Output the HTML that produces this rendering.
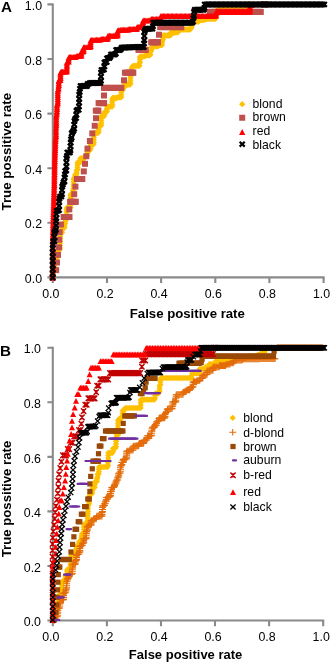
<!DOCTYPE html>
<html><head><meta charset="utf-8"><title>ROC curves</title>
<style>
html,body{margin:0;padding:0;background:#fff;}
svg{display:block;}
text{font-family:"Liberation Sans",sans-serif;fill:#000;}
.tk{font-size:12.4px;}
.lg{font-size:12.2px;}
.ax{font-size:13px;font-weight:bold;}
.pl{font-size:15.2px;font-weight:bold;}
polyline{fill:none;stroke:none;}
.mA0{marker-start:url(#dA);marker-mid:url(#dA);marker-end:url(#dA);}
.mA1{marker-start:url(#sA);marker-mid:url(#sA);marker-end:url(#sA);}
.mA2{marker-start:url(#tA);marker-mid:url(#tA);marker-end:url(#tA);}
.mA3{marker-start:url(#xA);marker-mid:url(#xA);marker-end:url(#xA);}
.mB0{marker-start:url(#dB);marker-mid:url(#dB);marker-end:url(#dB);}
.mB1{marker-start:url(#pB);marker-mid:url(#pB);marker-end:url(#pB);}
.mB2{marker-start:url(#sB);marker-mid:url(#sB);marker-end:url(#sB);}
.mB3{marker-start:url(#hB);marker-mid:url(#hB);marker-end:url(#hB);}
.mB4{marker-start:url(#rB);marker-mid:url(#rB);marker-end:url(#rB);}
.mB5{marker-start:url(#tB);marker-mid:url(#tB);marker-end:url(#tB);}
.mB6{marker-start:url(#xB);marker-mid:url(#xB);marker-end:url(#xB);}
</style></head><body>
<svg width="331" height="664" viewBox="0 0 331 664">
<defs>
<marker id="dA" markerUnits="userSpaceOnUse" markerWidth="8" markerHeight="8" refX="4" refY="4"><path d="M4 0.85L7.15 4L4 7.15L0.85 4Z" fill="#FFC000"/></marker>
<marker id="sA" markerUnits="userSpaceOnUse" markerWidth="8" markerHeight="8" refX="4" refY="4"><rect x="1" y="1" width="6" height="6" fill="#C0504D"/></marker>
<marker id="tA" markerUnits="userSpaceOnUse" markerWidth="8" markerHeight="8" refX="4" refY="4"><path d="M4 1.1L7.15 6.9H0.85Z" fill="#FF0000"/></marker>
<marker id="xA" markerUnits="userSpaceOnUse" markerWidth="8" markerHeight="8" refX="4" refY="4"><path d="M1.45 1.55L6.55 6.45M6.55 1.55L1.45 6.45" stroke="#000" stroke-width="2.2" fill="none"/></marker>
<marker id="dB" markerUnits="userSpaceOnUse" markerWidth="8" markerHeight="8" refX="4" refY="4"><path d="M4 0.9L7.1 4L4 7.1L0.9 4Z" fill="#FFC000"/></marker>
<marker id="pB" markerUnits="userSpaceOnUse" markerWidth="8" markerHeight="8" refX="4" refY="4"><path d="M0.5 4H7.5M4 0.7V7.3" stroke="#E46C0A" stroke-width="1.1" fill="none"/></marker>
<marker id="sB" markerUnits="userSpaceOnUse" markerWidth="8" markerHeight="8" refX="4" refY="4"><rect x="1.4" y="1.4" width="5.2" height="5.2" fill="#984807"/></marker>
<marker id="hB" markerUnits="userSpaceOnUse" markerWidth="8" markerHeight="8" refX="4" refY="4"><rect x="1.5" y="2.9" width="5" height="2.2" rx="0.8" fill="#7030A0"/></marker>
<marker id="rB" markerUnits="userSpaceOnUse" markerWidth="8" markerHeight="8" refX="4" refY="4"><path d="M1.4 1.2L6.6 6.8M6.6 1.2L1.4 6.8M4 1.9V6.1" stroke="#C00000" stroke-width="1.4" fill="none"/></marker>
<marker id="tB" markerUnits="userSpaceOnUse" markerWidth="8" markerHeight="8" refX="4" refY="4"><path d="M4 1.1L7 6.9H1Z" fill="#FF0000"/></marker>
<marker id="xB" markerUnits="userSpaceOnUse" markerWidth="8" markerHeight="8" refX="4" refY="4"><path d="M1.4 1.45L6.6 6.55M6.6 1.45L1.4 6.55" stroke="#000" stroke-width="1.3" fill="none"/></marker>
</defs>
<rect width="331" height="664" fill="#fff"/>
<path d="M52.8 3.4V283.1 M47.4 277.4H324.7" stroke="#8a8a8a" stroke-width="2.1" fill="none"/>
<path d="M47.4 222.8H52.8M107.0 277.4V283.1M47.4 168.2H52.8M161.1 277.4V283.1M47.4 113.6H52.8M215.3 277.4V283.1M47.4 59.0H52.8M269.4 277.4V283.1M47.4 4.4H52.8M323.6 277.4V283.1" stroke="#8a8a8a" stroke-width="2.1" fill="none"/>
<text class="tk" text-anchor="end" x="42.1" y="283.0">0.0</text>
<text class="tk" text-anchor="middle" x="50.8" y="297.6">0.0</text>
<text class="tk" text-anchor="end" x="42.1" y="228.4">0.2</text>
<text class="tk" text-anchor="middle" x="105.0" y="297.6">0.2</text>
<text class="tk" text-anchor="end" x="42.1" y="173.8">0.4</text>
<text class="tk" text-anchor="middle" x="159.1" y="297.6">0.4</text>
<text class="tk" text-anchor="end" x="42.1" y="119.2">0.6</text>
<text class="tk" text-anchor="middle" x="213.3" y="297.6">0.6</text>
<text class="tk" text-anchor="end" x="42.1" y="64.6">0.8</text>
<text class="tk" text-anchor="middle" x="267.4" y="297.6">0.8</text>
<text class="tk" text-anchor="end" x="42.1" y="10.0">1.0</text>
<text class="tk" text-anchor="middle" x="321.6" y="297.6">1.0</text>
<path d="M52.8 346.8V626.2 M47.4 620.5H324.2" stroke="#8a8a8a" stroke-width="2.1" fill="none"/>
<path d="M47.4 566.0H52.8M106.9 620.5V626.2M47.4 511.4H52.8M161.0 620.5V626.2M47.4 456.9H52.8M215.0 620.5V626.2M47.4 402.3H52.8M269.1 620.5V626.2M47.4 347.8H52.8M323.2 620.5V626.2" stroke="#8a8a8a" stroke-width="2.1" fill="none"/>
<text class="tk" text-anchor="end" x="41.0" y="626.1">0.0</text>
<text class="tk" text-anchor="middle" x="50.8" y="640.7">0.0</text>
<text class="tk" text-anchor="end" x="41.0" y="571.6">0.2</text>
<text class="tk" text-anchor="middle" x="104.9" y="640.7">0.2</text>
<text class="tk" text-anchor="end" x="41.0" y="517.0">0.4</text>
<text class="tk" text-anchor="middle" x="159.0" y="640.7">0.4</text>
<text class="tk" text-anchor="end" x="41.0" y="462.5">0.6</text>
<text class="tk" text-anchor="middle" x="213.0" y="640.7">0.6</text>
<text class="tk" text-anchor="end" x="41.0" y="407.9">0.8</text>
<text class="tk" text-anchor="middle" x="267.1" y="640.7">0.8</text>
<text class="tk" text-anchor="end" x="41.0" y="353.4">1.0</text>
<text class="tk" text-anchor="middle" x="321.2" y="640.7">1.0</text>
<polyline class="mA0" points="52.7,277.7 52.7,275.3 52.7,272.9 53.5,272.0 54.5,271.5 54.5,269.1 54.5,266.7 54.5,264.3 54.6,262.0 55.9,262.0 56.5,260.7 56.5,258.3 56.5,255.9 56.5,253.5 57.0,252.0 58.3,252.0 58.5,250.0 59.6,249.7 60.0,248.0 60.0,245.6 60.0,243.2 60.2,241.2 60.2,238.8 60.2,236.4 60.2,234.0 60.7,232.5 62.0,232.5 62.0,230.1 62.0,227.7 63.3,227.7 64.5,227.5 64.5,225.1 65.0,223.5 65.1,221.5 65.4,219.5 66.6,219.3 66.6,216.9 66.6,214.5 66.6,212.1 66.6,209.7 66.9,208.0 67.9,207.4 69.2,207.4 70.5,207.4 70.5,205.0 70.5,202.6 70.5,200.2 70.5,197.8 70.5,195.4 71.1,194.0 72.4,194.0 73.1,192.9 73.1,190.5 73.4,188.7 73.6,186.6 73.7,184.4 73.7,182.0 73.7,179.6 74.1,178.0 75.1,177.4 75.1,175.0 76.3,174.9 76.6,173.0 76.6,170.6 77.4,169.7 77.5,167.5 77.5,165.1 77.5,162.7 78.6,162.4 79.9,162.4 80.2,160.5 80.4,158.5 81.7,158.5 83.0,158.5 84.3,158.5 84.7,156.8 85.6,156.1 86.9,156.1 87.2,154.1 87.2,151.7 87.5,150.0 88.8,150.0 90.1,150.0 90.5,148.4 90.5,146.0 90.9,144.3 92.2,144.3 93.5,144.3 93.8,142.5 93.8,140.1 93.8,137.7 93.8,135.3 93.9,133.0 95.2,133.0 96.5,133.0 97.8,133.0 98.6,132.0 98.6,129.6 98.6,127.2 99.2,126.0 100.5,126.0 101.3,125.1 101.3,122.7 101.3,120.3 101.3,117.9 101.6,116.0 102.9,116.0 104.2,116.0 104.4,113.9 104.7,112.1 106.0,112.1 106.9,111.4 106.9,109.0 106.9,106.6 108.2,106.6 109.5,106.6 110.8,106.6 112.1,106.6 112.3,104.5 112.3,102.1 112.3,99.7 112.7,98.0 114.0,98.0 115.3,98.0 116.6,98.0 117.6,97.4 118.9,97.4 120.2,97.4 121.3,97.1 121.3,94.7 121.3,92.3 121.4,90.1 122.7,90.1 123.2,88.6 123.2,86.2 124.0,85.3 125.3,85.3 126.6,85.3 127.4,84.5 128.7,84.5 130.0,84.5 130.4,82.7 130.4,80.3 130.4,78.0 130.6,76.0 130.6,73.6 131.3,72.3 131.7,70.8 131.7,68.4 132.3,67.0 133.0,65.9 134.3,65.9 135.6,65.9 136.9,65.9 138.2,65.9 139.4,65.8 139.4,63.4 139.9,61.9 139.9,59.5 139.9,57.1 140.8,56.3 142.1,56.3 143.4,56.3 144.7,56.3 145.5,55.4 146.8,55.4 148.1,55.4 149.4,55.4 150.3,54.7 150.3,52.3 150.8,50.9 151.6,49.9 151.6,47.5 152.3,46.3 153.6,46.3 154.9,46.3 156.2,46.3 157.5,46.3 158.5,45.9 159.4,45.1 160.7,45.1 162.0,45.1 162.0,42.7 162.3,40.8 162.8,39.4 162.8,37.0 163.3,35.5 164.6,35.5 165.9,35.5 167.2,35.5 168.5,35.5 169.8,35.5 170.8,35.0 170.8,32.6 172.1,32.5 173.4,32.5 174.7,32.5 176.0,32.5 177.0,32.0 178.3,32.0 178.4,29.7 179.6,29.5 180.9,29.5 182.2,29.5 183.5,29.5 184.8,29.5 186.1,29.5 187.4,29.5 188.7,29.5 190.0,29.5 190.8,28.7 191.3,27.2 191.8,25.7 191.8,23.3 192.2,21.7 193.5,21.7 194.8,21.7 196.1,21.7 197.4,21.7 198.6,21.5 199.1,20.0 200.4,20.0 201.7,20.0 203.0,20.0 204.1,19.6 205.4,19.6 206.3,18.8 207.6,18.8 208.9,18.8 210.2,18.8 211.5,18.8 212.8,18.8 214.1,18.8 215.4,18.8 216.0,17.6 216.0,15.2 217.1,14.8 217.1,12.4 217.1,10.0 218.4,10.0 219.7,10.0 221.0,10.0 222.3,10.0 223.6,10.0 224.9,10.0 226.2,10.0 227.5,10.0 228.8,10.0 230.1,10.0 231.4,10.0 232.7,10.0 234.0,10.0 235.3,10.0 236.6,10.0 237.9,10.0 239.2,10.0 240.5,10.0 241.8,10.0 243.1,10.0 244.4,10.0 245.7,10.0 247.0,10.0 247.0,7.6 247.0,5.2 247.9,4.4 249.2,4.4"/>
<polyline class="mA1" points="52.7,277.7 56.2,270.1 57.0,262.5 58.0,254.9 59.0,247.3 59.2,239.7 59.7,232.1 60.9,224.5 63.6,217.0 65.2,217.0 66.8,217.0 68.4,217.0 69.5,217.0 69.3,209.4 70.1,201.8 71.7,201.8 73.3,201.8 74.9,201.8 75.8,201.8 74.2,194.2 75.4,186.6 76.9,179.0 78.5,179.0 80.1,179.0 81.7,179.0 82.3,179.0 83.8,171.4 85.0,163.8 86.3,156.2 87.5,148.6 89.9,141.0 92.3,133.4 94.7,125.8 96.0,118.2 95.8,110.7 97.4,110.7 98.4,110.7 98.6,103.1 100.2,103.1 101.8,103.1 103.4,103.1 104.1,103.1 104.0,95.5 104.0,87.9 105.6,87.9 107.2,87.9 108.8,87.9 110.4,87.9 112.0,87.9 113.6,87.9 115.2,87.9 116.8,87.9 118.4,87.9 120.0,87.9 121.3,87.9 124.0,80.3 124.9,72.7 126.5,72.7 128.1,72.7 129.7,72.7 131.3,72.7 132.9,72.7 133.3,72.7 138.5,49.9 140.1,49.9 141.7,49.9 143.3,49.9 144.9,49.9 145.8,49.9 151.2,42.3 152.8,42.3 154.4,42.3 156.0,42.3 157.6,42.3 157.9,42.3 159.0,34.7 160.2,27.1 161.8,27.1 163.4,27.1 165.0,27.1 166.6,27.1 168.2,27.1 169.8,27.1 171.4,27.1 173.0,27.1 174.6,27.1 176.2,27.1 177.8,27.1 179.4,27.1 181.0,27.1 181.3,27.1 210.0,11.9 211.6,11.9 213.2,11.9 214.8,11.9 216.4,11.9 218.0,11.9 219.6,11.9 221.2,11.9 222.8,11.9 224.4,11.9 226.0,11.9 227.6,11.9 229.2,11.9 230.8,11.9 232.4,11.9 234.0,11.9 235.6,11.9 237.2,11.9 238.8,11.9 240.4,11.9 242.0,11.9 243.6,11.9 245.2,11.9 246.8,11.9 248.4,11.9 250.0,11.9 251.6,11.9 253.2,11.9 254.8,11.9 256.4,11.9 258.0,11.9 259.6,11.9 260.8,11.9 263.0,4.4 264.6,4.4 266.0,4.4"/>
<polyline class="mA2" points="52.7,277.7 52.7,275.8 52.7,273.9 52.7,272.0 52.7,270.1 52.7,268.3 52.8,266.4 52.8,264.5 52.8,262.6 52.8,260.7 52.8,258.8 52.8,256.9 52.8,255.0 52.8,253.2 52.8,251.3 52.8,249.4 52.8,247.5 52.8,245.6 52.9,243.7 52.9,241.8 52.9,239.9 52.9,238.1 52.9,236.2 52.9,234.3 52.9,232.4 53.0,230.6 53.0,228.7 53.1,226.9 53.1,225.1 53.2,223.3 53.2,221.5 53.3,219.6 53.3,217.8 53.4,216.0 53.4,214.2 53.5,212.3 53.5,210.5 53.6,208.7 53.6,206.9 53.7,205.1 53.8,203.2 53.8,201.4 53.9,199.6 53.9,197.8 54.0,196.0 54.1,194.2 54.1,192.4 54.2,190.6 54.2,188.8 54.3,186.9 54.4,185.1 54.4,183.3 54.4,181.4 54.5,179.6 54.5,177.7 54.5,175.9 54.6,174.0 54.6,172.2 54.6,170.3 54.7,168.5 54.7,166.6 54.7,164.8 54.8,162.9 54.8,161.0 54.8,159.2 54.9,157.4 55.0,155.6 55.0,153.8 55.1,152.0 55.2,150.2 55.2,148.4 55.3,146.6 55.4,144.8 55.4,143.0 55.5,141.2 55.6,139.4 55.7,137.6 56.0,136.2 56.0,134.3 56.0,132.4 56.0,130.5 56.0,128.6 56.1,126.8 56.2,125.1 56.3,123.3 56.3,121.5 56.3,119.6 56.3,117.7 56.3,115.8 56.6,114.4 56.8,112.7 56.9,111.0 57.0,109.2 57.0,107.3 57.0,105.4 57.3,103.9 57.8,102.8 57.8,100.9 57.8,99.0 57.8,97.1 57.8,95.2 57.8,93.3 57.8,91.4 58.0,89.7 58.5,88.6 58.5,86.7 58.8,85.2 58.8,83.3 58.8,81.4 59.1,80.0 60.4,80.0 60.5,78.2 60.5,76.3 60.5,74.4 60.5,72.5 61.3,71.7 62.6,71.7 63.9,71.7 65.2,71.7 66.5,71.7 66.9,70.5 66.9,68.6 66.9,66.7 66.9,64.8 66.9,62.9 67.4,61.7 68.7,61.6 68.7,59.7 68.7,57.8 69.3,56.8 70.6,56.8 71.9,56.8 73.2,56.8 74.5,56.8 75.8,56.8 76.6,56.1 77.7,55.8 79.0,55.8 80.3,55.8 81.4,55.5 81.4,53.6 81.4,51.7 82.6,51.7 83.6,51.2 83.6,49.3 83.6,47.4 84.7,47.1 86.0,47.1 87.3,47.1 88.6,47.1 89.9,47.1 90.6,46.2 90.6,44.3 90.6,42.4 90.6,40.5 91.5,39.9 92.8,39.9 94.1,39.9 95.3,39.8 96.5,39.6 97.8,39.6 99.1,39.6 100.4,39.6 101.1,38.8 102.4,38.8 103.7,38.8 105.0,38.8 106.3,38.8 107.6,38.8 108.0,37.4 108.1,35.7 109.4,35.7 110.7,35.7 112.0,35.7 113.3,35.7 114.6,35.7 115.9,35.7 117.2,35.7 117.7,34.5 117.7,32.6 117.7,30.7 118.6,30.1 119.9,30.1 120.9,29.7 122.2,29.7 123.5,29.7 124.8,29.7 126.1,29.7 127.3,29.6 128.6,29.5 129.5,29.0 130.8,29.0 132.1,29.0 133.4,29.0 134.7,29.0 136.0,29.0 137.0,28.5 137.2,26.9 138.5,26.9 139.8,26.9 141.1,26.9 142.0,26.3 142.0,24.4 142.3,23.0 143.1,22.2 143.2,20.4 144.5,20.4 145.8,20.4 147.1,20.4 148.4,20.4 149.7,20.4 150.8,20.2 151.3,19.0 152.6,19.0 153.9,19.0 155.2,19.0 156.5,19.0 157.8,19.0 159.1,19.0 160.4,19.0 160.6,17.4 160.9,15.9 162.2,15.9 163.5,15.9 164.8,15.9 166.1,15.9 167.4,15.9 168.7,15.9 170.0,15.9 171.3,15.9 172.6,15.9 173.9,15.9 175.2,15.9 176.5,15.9 177.8,15.9 179.1,15.9 180.4,15.9 181.7,15.9 183.0,15.9 184.3,15.9 185.6,15.9 186.9,15.9 188.2,15.9 189.5,15.9 190.8,15.9 192.1,15.9 193.4,15.9 194.7,15.9 196.0,15.9 197.3,15.9 198.6,15.9 199.9,15.9 201.2,15.9 202.5,15.9 203.8,15.9 205.1,15.9 206.4,15.9 207.7,15.9 209.0,15.9 210.3,15.9 211.6,15.9 212.9,15.9 214.2,15.9 215.5,15.9 216.0,14.8 216.0,12.9 216.4,11.5 217.7,11.5 219.0,11.5 220.3,11.5 221.6,11.5 222.9,11.5 224.2,11.5 225.5,11.5 226.8,11.5 228.1,11.5 229.4,11.5 230.7,11.5 232.0,11.5 233.3,11.5 234.6,11.5 235.9,11.5 237.2,11.5 238.5,11.5 239.8,11.5 241.1,11.5 242.4,11.5 243.7,11.5 245.0,11.5 246.3,11.5 247.6,11.5 248.9,11.5 250.0,11.3 250.0,9.4 250.0,7.5 250.0,5.6 250.5,4.4 251.8,4.4 253.1,4.4"/>
<polyline class="mA3" points="52.7,277.7 52.7,273.5 52.7,269.3 52.7,265.1 52.7,260.9 52.7,256.7 52.7,252.5 52.7,248.3 52.9,244.7 53.2,241.5 54.4,241.2 54.4,237.0 54.4,232.8 55.2,231.1 56.0,229.6 56.0,225.4 56.0,221.2 56.4,218.2 56.4,214.0 56.7,210.8 58.0,210.8 59.1,210.0 59.1,205.8 59.1,201.6 59.4,198.7 60.1,196.6 61.4,196.6 62.0,194.3 62.0,190.1 62.2,186.6 62.9,184.6 63.5,182.3 64.5,181.4 64.5,177.2 65.0,174.5 65.1,170.9 66.3,170.4 66.4,166.6 66.4,162.4 66.4,158.2 67.0,155.9 67.3,152.5 68.6,152.5 69.9,152.5 70.5,150.4 70.5,146.2 70.7,142.6 71.0,139.3 71.7,137.5 71.7,133.3 72.6,132.0 73.5,130.7 74.2,128.8 74.2,124.6 74.4,121.0 75.1,118.9 76.1,118.0 76.4,114.9 76.4,110.7 77.4,109.8 78.7,109.8 79.0,106.5 79.1,102.6 79.2,98.8 79.2,94.6 79.7,92.0 80.0,88.7 80.5,86.0 81.8,86.0 83.1,86.0 84.4,86.0 85.7,86.0 87.0,86.0 87.6,83.9 88.9,83.8 89.9,83.0 91.2,83.0 92.5,83.0 93.8,83.0 95.1,83.0 96.4,83.0 97.7,83.0 99.0,83.0 100.3,83.0 101.0,80.9 101.0,76.7 101.0,72.5 101.5,70.0 102.8,70.0 104.0,69.6 104.4,66.6 104.4,62.4 105.5,62.0 106.8,62.0 107.0,58.3 108.2,58.0 109.5,58.0 110.4,56.7 111.0,54.5 112.3,54.5 113.6,54.5 114.9,54.5 115.9,53.5 116.1,50.0 117.4,50.0 118.7,50.0 120.0,50.0 121.0,49.0 121.8,47.5 123.1,47.5 124.4,47.5 125.7,47.4 127.0,47.4 128.3,47.4 129.6,47.3 130.9,47.3 132.2,47.2 133.5,47.2 134.7,47.2 136.0,47.1 137.3,47.1 138.6,47.1 139.9,47.0 141.2,47.0 142.5,47.0 143.8,47.0 144.0,43.5 144.3,40.2 144.3,36.0 144.3,31.8 145.1,30.2 145.9,28.7 147.2,28.7 148.5,28.7 149.8,28.7 151.1,28.7 152.4,28.7 153.0,26.3 153.2,22.7 154.5,22.7 155.8,22.7 157.1,22.7 158.4,22.7 159.7,22.7 161.0,22.7 162.3,22.7 163.6,22.7 164.9,22.7 166.2,22.7 167.5,22.7 168.8,22.7 170.1,22.7 171.4,22.7 172.7,22.7 174.0,22.7 175.3,22.7 176.6,22.7 177.9,22.7 179.2,22.7 180.5,22.7 181.8,22.7 183.1,22.7 184.4,22.7 185.7,22.7 187.0,22.7 188.3,22.7 189.6,22.7 190.9,22.7 192.2,22.7 193.1,21.5 193.4,18.1 194.0,16.0 194.0,11.8 194.7,9.8 196.0,9.8 197.3,9.8 198.6,9.8 199.9,9.8 201.2,9.8 202.5,9.8 203.8,9.8 204.5,7.9 204.7,4.4 206.0,4.4 207.3,4.4 208.6,4.4 209.9,4.4 211.2,4.4 212.5,4.4 213.8,4.4 215.1,4.4 216.4,4.4 217.7,4.4 219.0,4.4 220.3,4.4 221.6,4.4 222.9,4.4 224.2,4.4 225.5,4.4 226.8,4.4 228.1,4.4 229.4,4.4 230.7,4.4 232.0,4.4 233.3,4.4 234.6,4.4 235.9,4.4 237.2,4.4 238.5,4.4 239.8,4.4 241.1,4.4 242.4,4.4 243.7,4.4 245.0,4.4 246.3,4.4 247.6,4.4 248.9,4.4 250.2,4.4 251.5,4.4 252.8,4.4 254.1,4.4 255.4,4.4 256.7,4.4 258.0,4.4 259.3,4.4 260.6,4.4 261.9,4.4 263.2,4.4 264.5,4.4 265.8,4.4 267.1,4.4 268.4,4.4 269.7,4.4 271.0,4.4 272.3,4.4 273.6,4.4 274.9,4.4 276.2,4.4 277.5,4.4 278.8,4.4 280.1,4.4 281.4,4.4 282.7,4.4 284.0,4.4 285.3,4.4 286.6,4.4 287.9,4.4 289.2,4.4 290.5,4.4 291.8,4.4 293.1,4.4 294.4,4.4 295.7,4.4 297.0,4.4 298.3,4.4 299.6,4.4 300.9,4.4 302.2,4.4 303.5,4.4 304.8,4.4 306.1,4.4 307.4,4.4 308.7,4.4 310.0,4.4 311.3,4.4 312.6,4.4 313.9,4.4 315.2,4.4 316.5,4.4 317.8,4.4 319.1,4.4 320.4,4.4 321.7,4.4 323.0,4.4 324.3,4.4"/>
<polyline class="mB0" points="52.7,620.0 53.6,619.1 55.0,619.1 55.0,616.5 55.0,613.9 55.0,611.3 55.6,609.8 55.6,607.2 56.0,605.4 57.4,605.4 58.0,603.8 58.0,601.2 58.8,600.1 58.8,597.5 58.8,594.9 60.0,594.5 61.4,594.5 61.8,592.7 61.8,590.1 61.8,587.5 62.1,585.5 62.1,582.9 62.6,581.2 64.0,581.2 65.4,581.2 65.4,578.6 65.4,576.0 66.3,575.1 67.0,573.8 67.0,571.2 67.4,569.4 68.8,569.2 70.2,569.2 70.5,567.3 70.5,564.7 71.2,563.3 71.2,560.7 71.2,558.1 71.2,555.5 72.5,555.4 73.9,555.4 75.3,555.4 75.7,553.5 76.1,551.6 76.1,549.0 76.1,546.4 77.1,545.8 78.5,545.8 79.0,544.0 79.1,541.7 80.5,541.7 81.4,540.7 81.4,538.1 81.7,536.0 81.9,533.9 83.3,533.8 83.8,532.2 83.8,529.6 83.8,527.0 83.8,524.4 85.0,524.1 86.4,524.1 87.5,523.4 87.5,520.8 87.6,518.3 87.7,516.1 87.9,513.8 88.0,511.4 88.0,508.8 88.0,506.2 88.6,504.7 89.2,503.1 89.2,500.5 89.2,497.9 89.5,496.0 89.9,494.1 91.0,493.5 92.3,493.3 92.3,490.7 92.3,488.1 93.4,487.5 94.7,487.5 94.7,484.9 94.7,482.3 95.7,481.5 97.0,481.3 97.1,478.8 97.5,476.9 97.5,474.3 98.7,474.0 98.9,471.8 98.9,469.2 99.1,467.0 100.5,467.0 101.9,467.0 103.3,467.0 104.7,467.0 106.1,467.0 107.5,467.0 108.0,465.3 108.0,462.7 108.2,460.4 108.3,458.0 108.3,455.4 108.3,452.8 109.7,452.8 111.1,452.8 112.5,452.8 113.0,451.2 113.0,448.6 114.1,448.0 115.5,448.0 116.0,446.4 116.0,443.8 116.0,441.2 116.6,439.6 116.6,437.0 116.7,434.7 118.1,434.7 118.3,432.8 118.2,430.4 118.1,427.9 118.0,425.5 118.0,423.0 118.0,420.4 118.8,419.3 120.2,419.3 120.7,417.7 122.1,417.7 122.6,415.9 122.6,413.3 122.6,410.7 124.0,410.7 124.8,409.5 125.3,408.0 126.7,408.0 128.1,408.0 129.5,408.0 130.9,408.0 132.3,408.0 133.7,408.0 135.1,408.0 136.5,408.0 137.9,408.0 139.3,408.0 140.7,407.9 140.7,405.3 140.7,402.7 140.7,400.1 141.8,399.6 143.2,399.6 144.6,399.6 146.0,399.6 147.4,399.6 148.8,399.6 150.2,399.6 151.6,399.6 153.0,399.6 154.4,399.6 155.0,398.1 155.0,395.5 155.4,393.6 156.8,393.6 158.2,393.6 158.9,392.3 159.6,391.0 159.6,388.4 159.6,385.8 160.4,384.7 160.4,382.1 160.4,379.5 161.0,378.0 162.4,378.0 163.8,378.0 165.2,378.0 166.6,378.0 168.0,378.0 169.4,378.0 170.8,378.0 172.2,378.0 173.6,378.0 175.0,378.0 176.4,378.0 177.8,378.0 179.2,378.0 180.6,378.0 182.0,378.0 183.4,378.0 184.8,378.0 186.2,378.0 187.6,378.0 189.0,378.0 190.4,378.0 191.8,378.0 191.8,375.4 192.2,373.5 193.6,373.5 195.0,373.5 196.4,373.5 197.8,373.5 199.2,373.5 199.6,371.7 199.6,369.1 200.9,369.0 202.3,369.0 203.7,369.0 205.1,369.0 205.5,367.0 206.9,367.0 208.3,367.0 209.3,366.3 209.5,364.0 210.9,364.0 212.3,364.0 213.7,364.0 215.0,364.0 215.8,362.8 216.1,360.8 217.5,360.8 218.9,360.8 220.3,360.8 221.7,360.8 223.1,360.8 224.4,360.6 225.8,360.5 227.2,360.5 228.6,360.5 229.9,360.3 230.6,359.0 232.0,359.0 233.4,359.0 234.8,359.0 235.6,358.0 237.0,358.0 238.4,358.0 239.8,358.0 241.0,357.6 242.4,357.6 243.8,357.6 245.2,357.6 246.6,357.6 248.0,357.6 249.0,356.8 249.9,356.0 251.3,356.0 252.7,356.0 254.1,356.0 255.5,356.0 256.9,355.9 257.8,354.9 259.2,354.9 260.6,354.9 262.0,354.9 262.0,352.4 263.2,352.0 264.6,352.0 265.0,350.2 265.1,347.8 266.5,347.8 267.9,347.8"/>
<polyline class="mB1" points="52.7,620.0 53.7,620.0 54.7,620.0 55.0,618.6 55.1,616.8 56.0,616.7 57.0,616.7 57.6,615.8 57.6,613.8 57.8,612.2 57.8,610.2 57.8,608.2 58.7,608.1 59.7,608.0 59.7,606.0 59.7,604.0 60.3,603.1 60.5,601.7 60.6,599.7 61.6,599.7 62.6,599.7 63.5,599.6 63.5,597.6 63.5,595.6 63.5,593.6 64.2,593.0 65.1,592.7 65.7,592.0 65.8,590.1 66.2,589.1 66.6,587.8 66.6,585.8 66.6,583.8 66.6,581.8 67.2,581.0 67.3,579.2 68.0,578.6 68.3,577.2 68.9,576.5 69.2,575.0 69.7,574.1 70.7,574.1 71.7,574.1 72.3,573.2 72.3,571.2 72.3,569.2 72.7,568.0 72.7,566.0 72.9,564.4 73.9,564.4 74.9,564.4 75.2,563.1 75.2,561.1 76.0,560.6 76.5,559.6 76.5,557.6 76.5,555.6 76.8,554.2 77.8,554.2 78.8,554.2 79.0,552.6 79.7,551.9 79.9,550.5 79.9,548.5 79.9,546.5 80.6,545.8 81.6,545.8 82.4,545.3 82.4,543.3 83.4,543.3 83.8,542.2 83.8,540.2 84.0,538.6 85.0,538.6 86.0,538.6 86.3,537.2 86.3,535.2 86.4,533.4 86.5,531.6 87.1,530.7 87.3,529.2 87.3,527.2 87.9,526.4 88.7,526.0 89.2,524.9 90.2,524.9 91.2,524.9 91.2,522.9 91.2,520.9 91.9,520.4 92.9,520.4 93.5,519.6 94.1,518.9 95.1,518.9 96.1,518.9 96.5,517.5 96.8,516.1 97.8,516.1 98.8,516.1 99.8,516.1 100.8,516.1 101.8,516.1 102.0,514.6 102.0,512.6 102.5,511.5 102.5,509.5 102.5,507.5 102.6,505.9 103.6,505.9 104.4,505.4 104.5,503.7 105.3,503.3 105.3,501.3 106.2,501.1 106.4,499.5 106.4,497.5 107.4,497.4 108.4,497.4 109.0,496.6 110.0,496.6 110.4,495.4 110.4,493.4 110.4,491.5 111.4,491.5 111.6,489.8 111.6,487.8 112.5,487.5 113.5,487.5 114.0,486.6 114.5,485.6 115.0,484.5 115.2,483.0 116.2,483.0 116.2,481.1 116.7,480.0 117.7,480.0 117.7,478.0 118.2,477.1 118.7,475.9 118.7,473.9 119.2,473.0 120.2,473.0 120.4,471.3 120.4,469.3 120.4,467.3 120.6,465.8 121.6,465.8 121.9,464.5 121.9,462.5 122.9,462.5 123.1,460.8 123.4,459.4 124.4,459.4 125.2,459.0 126.2,459.0 126.7,457.9 126.7,455.9 126.7,453.9 126.7,451.9 127.2,451.0 128.2,451.0 129.2,451.0 129.9,450.3 130.9,450.3 131.9,450.3 132.9,450.3 133.0,448.7 133.0,446.7 133.7,446.0 134.7,446.0 135.7,446.0 136.7,446.0 137.7,446.0 138.7,446.0 138.8,444.2 139.4,443.4 140.4,443.4 141.4,443.4 142.4,443.4 143.4,443.4 143.8,442.2 143.8,440.2 144.7,440.0 145.7,440.0 146.7,440.0 147.1,438.8 147.5,437.6 147.6,435.8 148.6,435.8 149.6,435.8 150.6,435.8 151.6,435.8 151.6,433.8 151.6,431.8 152.0,430.7 152.1,428.7 152.4,427.3 153.4,427.3 154.4,427.3 154.8,426.1 155.3,425.3 156.3,425.3 156.4,423.4 156.7,422.0 157.3,421.3 158.3,421.3 159.0,420.5 159.0,418.5 159.6,417.9 160.6,417.9 161.6,417.9 162.6,417.9 163.6,417.9 164.6,417.9 165.0,416.6 165.0,414.6 165.4,413.5 166.0,412.5 166.5,411.7 167.4,411.4 167.4,409.4 168.0,408.7 169.0,408.7 170.0,408.7 171.0,408.7 172.0,408.6 172.0,406.6 172.7,406.0 172.7,404.0 172.7,402.0 173.7,401.9 174.7,401.9 175.7,401.9 175.8,400.2 175.8,398.2 176.2,396.9 176.2,394.9 177.0,394.5 178.0,394.5 179.0,394.5 180.0,394.5 181.0,394.5 182.0,394.5 183.0,394.5 183.0,392.6 183.7,392.0 184.7,392.0 185.2,391.0 186.2,391.0 186.8,390.1 187.6,389.9 188.6,389.9 189.6,389.9 190.0,388.6 190.7,388.0 191.3,387.1 192.3,387.1 193.1,386.7 193.1,384.7 193.1,382.7 193.6,381.7 194.6,381.7 195.6,381.7 196.6,381.7 197.0,380.6 198.0,380.6 199.0,380.6 199.8,380.2 200.0,378.5 201.0,378.5 202.0,378.5 202.7,378.0 202.7,376.0 203.4,375.3 204.1,374.7 205.1,374.7 206.1,374.7 207.0,374.5 207.0,372.5 207.1,370.8 208.1,370.8 209.1,370.8 210.0,370.6 210.9,370.4 211.9,370.4 212.9,370.4 212.9,368.4 213.2,367.0 214.2,367.0 215.2,367.0 216.2,367.0 217.2,367.0 218.2,367.0 219.2,367.0 219.5,365.6 220.5,365.6 221.5,365.6 222.5,365.6 223.5,365.6 224.5,365.6 225.5,365.6 226.0,364.6 226.8,364.2 227.8,364.2 228.8,364.2 229.8,364.2 230.2,363.0 231.2,363.0 232.2,363.0 233.2,363.0 233.5,361.6 234.4,361.3 235.1,360.8 235.8,360.1 236.8,360.1 237.8,360.1 238.8,360.1 239.8,360.1 240.8,360.1 241.8,360.1 242.6,359.8 243.2,359.0 244.2,359.0 245.2,359.0 246.2,359.0 247.2,359.0 248.2,358.9 249.2,358.9 250.2,358.9 251.2,358.9 252.2,358.9 253.2,358.9 254.1,358.9 255.1,358.9 256.1,358.9 257.1,358.9 258.1,358.9 259.1,358.9 260.1,358.8 261.1,358.8 262.1,358.8 263.1,358.8 264.1,358.8 265.1,358.8 266.1,358.8 267.1,358.8 268.1,358.8 269.1,358.8 270.1,358.8 271.1,358.7 272.1,358.7 273.1,358.7 274.1,358.7 275.1,358.7"/>
<polyline class="mB1" points="277.5,347.8 278.5,347.8 279.5,347.8 280.5,347.8 281.5,347.8 282.5,347.8 283.5,347.8 284.5,347.8 285.5,347.8 286.5,347.8 287.5,347.8 288.5,347.8 289.5,347.8 290.5,347.8 291.5,347.8 292.5,347.8 293.5,347.8 294.5,347.8 295.5,347.8 296.5,347.8 297.5,347.8 298.5,347.8 299.5,347.8 300.5,347.8 301.5,347.8 302.5,347.8 303.5,347.8 304.5,347.8 305.5,347.8 306.5,347.8 307.5,347.8 308.5,347.8 309.5,347.8 310.5,347.8 311.5,347.8 312.5,347.8 313.5,347.8 314.5,347.8 315.5,347.8 316.5,347.8 317.5,347.8 318.5,347.8 319.5,347.8 320.5,347.8 321.5,347.8 322.5,347.8"/>
<polyline class="mB2" points="52.7,620.0 54.3,620.0 55.9,612.4 56.7,604.9 57.2,597.3 57.5,589.8 57.9,582.2 58.3,574.6 58.8,567.1 59.8,567.1 61.4,559.5 63.0,559.5 64.6,559.5 66.2,559.5 67.8,559.5 69.4,559.5 71.0,552.0 72.6,544.4 73.9,536.8 75.1,529.3 76.6,529.3 78.2,521.7 79.8,521.7 81.4,514.2 83.0,514.2 84.6,506.6 86.2,506.6 87.8,499.0 89.3,499.0 89.9,491.5 89.9,483.9 90.7,476.4 92.3,468.8 92.9,461.2 94.4,461.2 96.0,461.2 97.6,461.2 98.5,461.2 98.5,453.7 99.3,446.1 100.9,446.1 102.5,438.6 104.0,438.6 105.5,431.0 107.1,431.0 108.7,431.0 110.3,431.0 111.9,431.0 113.5,431.0 115.1,431.0 116.7,431.0 118.3,431.0 119.9,431.0 121.5,431.0 122.9,431.0 123.2,423.4 124.8,415.9 126.4,415.9 128.0,415.9 129.6,415.9 131.2,415.9 132.8,415.9 134.4,415.9"/>
<polyline class="mB2" points="179.0,363.2 180.6,363.2 182.2,363.2 183.8,363.2 185.4,363.2 187.0,363.2 188.6,363.2 190.2,363.2 191.8,363.2 193.4,363.2 195.0,363.2 196.6,363.2 198.2,363.2 199.8,363.2 201.2,362.4 202.1,359.2 203.1,356.2 204.7,356.2 206.3,356.2 207.9,356.2 209.5,356.2 211.1,356.2 212.7,356.2 214.3,356.2 215.9,356.2 217.5,356.2 219.1,356.2 220.7,356.2 222.3,356.2 223.9,356.2 225.5,356.2 227.1,356.2 228.7,356.2 230.3,356.2 231.9,356.2 233.5,356.2 235.1,356.2 236.7,356.2 238.3,356.2 239.9,356.2 241.5,356.2 243.1,356.2 244.7,356.2 246.3,356.2 247.9,356.2 249.5,356.2 251.1,356.2 252.7,356.2 254.3,356.2 255.9,356.2 257.5,356.2 259.1,356.2 260.7,356.2 262.3,356.2 263.9,356.2 265.5,356.2 267.1,356.2 268.7,356.2 270.3,356.2 271.9,356.2 273.5,356.1 274.1,351.3 274.9,347.8 276.5,347.8"/>
<polyline class="mB2" points="140.4,393.6 142.0,393.6 143.6,391.2 145.2,387.7 146.1,382.2 147.1,378.4 148.7,378.4 150.3,378.4 151.9,378.4 153.5,378.4 155.1,378.4"/>
<polyline class="mB3" points="52.7,620.0 54.4,620.0 56.1,620.0 57.8,620.0 59.0,597.3 60.7,597.3 62.4,597.3 65.5,574.6 67.2,574.6 68.9,574.6 68.0,529.2 69.7,529.2 71.0,506.5 72.7,506.5 74.4,506.5 76.1,506.5 77.8,506.5 79.0,483.8 80.7,483.8 82.4,483.8 84.1,483.8 85.8,483.8 87.0,461.0 88.7,461.0 90.4,461.0 92.1,461.0 93.8,461.0 95.5,461.0 97.2,461.0 98.9,461.0 100.6,461.0 102.3,461.0 104.0,461.0 105.7,461.0 107.4,461.0 109.1,461.0 110.5,438.6 112.2,438.6 113.9,438.6 115.6,438.6 117.3,438.6 119.0,438.6 120.7,438.6 122.4,438.6 124.1,438.6 125.8,438.6 127.5,438.6 129.2,438.6 130.9,438.6 132.6,438.6 134.3,438.6 136.0,438.6 137.0,415.9 138.7,415.9 140.4,415.9 142.1,415.9 143.8,415.9 145.5,415.9 146.5,393.2 148.2,393.2 149.9,393.2 151.6,393.2 153.3,393.2 155.0,393.2 156.7,393.2 158.4,393.2 158.5,370.8 160.2,370.8 161.9,370.8 163.6,370.8 165.3,370.8 167.0,370.8 168.7,370.8 170.4,370.8 172.1,370.8 173.8,370.8 175.5,370.8 177.2,370.8 178.9,370.8 180.6,370.8 182.3,370.8 184.0,370.8 185.7,370.8 187.4,370.8 189.1,370.8 190.8,370.8 192.5,370.8 194.2,370.8 195.9,370.8 197.6,370.8 199.3,370.8 200.0,347.8 201.7,347.8 203.4,347.8 205.1,347.8 206.8,347.8 208.5,347.8 210.2,347.8 211.9,347.8 213.6,347.8 215.3,347.8 217.0,347.8 218.7,347.8 220.4,347.8 222.1,347.8 223.8,347.8 225.5,347.8 227.2,347.8 228.9,347.8 230.6,347.8 232.3,347.8 234.0,347.8 235.7,347.8 237.4,347.8 239.1,347.8 240.8,347.8 242.5,347.8 244.2,347.8 245.9,347.8 247.6,347.8 249.3,347.8 251.0,347.8 252.7,347.8 254.4,347.8 256.1,347.8 257.8,347.8 259.5,347.8 261.2,347.8 262.9,347.8 264.6,347.8 266.3,347.8 268.0,347.8 269.7,347.8 271.4,347.8 273.1,347.8 274.8,347.8 276.5,347.8 278.2,347.8 279.9,347.8 281.6,347.8 283.3,347.8 285.0,347.8 286.7,347.8 288.4,347.8 290.1,347.8 291.8,347.8 293.5,347.8 295.2,347.8 296.9,347.8 298.6,347.8 300.3,347.8 302.0,347.8 303.7,347.8 305.4,347.8 307.1,347.8 308.8,347.8 310.5,347.8 312.2,347.8 313.9,347.8 315.6,347.8 317.3,347.8 319.0,347.8 320.7,347.8 322.4,347.8"/>
<polyline class="mB4" points="52.7,620.0 52.7,613.7 52.6,607.3 52.6,601.0 52.6,594.7 52.6,588.3 52.5,582.0 52.5,575.7 52.5,569.4 52.5,563.0 52.5,556.7 52.5,550.4 52.5,544.0 52.8,537.7 53.4,531.4 54.1,525.0 54.7,518.7 55.2,512.4 55.9,506.1 57.0,499.7 57.8,493.4 58.3,487.1 58.4,480.7 59.1,474.4 60.2,468.1 61.4,461.7 62.9,455.4 64.5,455.4 66.1,455.4 67.7,449.1 69.3,449.1 70.9,442.8 72.5,442.8 74.1,436.4 75.7,436.4 77.3,436.4 78.9,430.1 80.5,430.1 81.3,423.8 82.0,417.4 83.6,411.1 85.2,404.8 86.8,404.8 88.3,398.4 89.9,398.4 91.5,398.4 93.1,398.4 94.7,398.4 96.2,392.1 97.1,385.8 98.7,385.8 100.3,379.4 101.9,379.4 103.5,379.4 105.1,379.4 106.7,379.4 108.3,379.4 109.9,373.1 111.5,373.1 113.1,373.1 114.7,373.1 116.3,373.1 117.9,373.1 119.5,373.1 121.1,373.1 122.7,373.1 124.3,373.1 125.9,373.1 127.5,373.1 129.1,373.1 130.7,373.1 132.3,373.1 133.9,373.1 135.5,373.1 137.1,373.1 138.7,373.1 140.3,373.1 141.9,366.8 142.1,360.5 143.7,360.5 145.3,360.5 146.0,354.1 147.5,354.1 149.1,354.1 150.7,354.1 152.3,354.1 153.9,354.1 155.5,354.1 157.1,354.1 158.7,354.1 160.3,354.1 161.9,354.1 163.5,354.1 165.1,354.1 166.7,354.1 168.3,354.1 169.9,354.1 171.5,354.1 173.1,354.1 174.7,354.1 176.3,354.1 177.9,354.1 179.5,354.1 181.1,354.1 182.7,354.1 184.3,354.1 185.9,354.1 187.5,354.1 189.1,354.1 190.7,354.1 192.3,354.1 193.9,354.1 195.5,354.1 197.1,354.1 198.7,354.1 200.3,354.1 201.9,354.1 203.5,354.1 205.1,354.1 206.7,354.1 208.3,354.1 209.9,354.1 211.5,354.1 213.0,354.1 214.0,347.8 215.6,347.8"/>
<polyline class="mB5" points="52.7,619.8 52.7,613.2 52.7,606.5 52.7,599.9 52.7,593.3 52.7,586.6 52.7,580.0 52.7,573.4 52.7,566.7 54.3,560.1 55.9,553.5 55.8,546.8 56.2,540.2 56.8,533.6 57.4,526.9 58.2,520.3 58.8,513.7 59.4,507.0 60.1,500.4 61.7,500.4 62.8,493.7 63.9,487.1 65.1,480.5 65.8,473.8 66.3,467.2 67.1,460.6 67.8,453.9 68.2,447.3 69.5,440.7 71.1,434.0 72.0,427.4 72.0,420.8 73.1,414.1 74.7,407.5 76.0,400.9 77.2,394.2 78.7,394.2 80.3,387.6 81.9,387.6 83.5,387.6 85.1,387.6 86.7,387.6 88.2,381.0 89.6,374.3 91.0,367.7 92.5,367.7 94.1,367.7 95.7,367.7 97.3,367.7 98.9,367.7 100.5,361.1 102.1,361.1 103.7,361.1 105.3,361.1 106.9,361.1 108.5,361.1 110.1,361.1 111.7,361.1 113.3,354.4 114.9,354.4 116.5,354.4 118.1,354.4 119.7,354.4 121.3,354.4 122.9,354.4 124.5,354.4 126.1,354.4 127.7,354.4 129.3,354.4 130.9,354.4 132.5,354.4 134.1,354.4 135.7,354.4 137.3,354.4 138.9,354.4 140.5,354.4 142.1,354.4 143.7,354.4 145.3,354.4 146.2,347.8 147.7,347.8 149.3,347.8 150.9,347.8 152.5,347.8 154.1,347.8 155.7,347.8 157.3,347.8 158.9,347.8 160.5,347.8 162.1,347.8 163.7,347.8 165.3,347.8 166.9,347.8 168.5,347.8 170.1,347.8 171.7,347.8 173.3,347.8 174.9,347.8 176.5,347.8 178.1,347.8 179.7,347.8 181.3,347.8 182.9,347.8 184.5,347.8 186.1,347.8 187.7,347.8 189.3,347.8 190.9,347.8 192.5,347.8 194.1,347.8 195.7,347.8 197.3,347.8 198.9,347.8 200.5,347.8 202.1,347.8"/>
<polyline class="mB6" points="52.7,620.0 52.7,615.5 52.7,610.9 52.7,606.4 52.7,601.8 52.7,597.2 52.7,592.7 52.7,588.1 52.7,583.6 52.7,579.0 53.4,574.5 55.6,570.0 56.7,565.4 57.2,560.9 58.3,556.3 59.3,551.8 59.6,547.2 60.1,542.6 60.6,538.1 61.2,533.5 61.7,529.0 62.3,524.5 63.0,519.9 63.9,515.4 64.9,510.8 65.9,506.2 67.0,501.7 68.2,497.2 70.7,492.6 71.7,488.1 72.2,483.5 72.6,478.9 73.0,474.4 73.0,469.9 73.5,465.3 74.2,460.8 75.0,456.2 76.5,451.7 78.0,447.1 78.9,442.6 79.6,438.0 80.8,433.4 81.6,432.7 82.3,432.7 83.0,432.7 83.7,432.7 84.4,432.7 85.1,432.7 85.8,432.7 86.5,432.7 87.2,431.5 87.9,426.9 88.6,426.6 89.3,426.6 90.0,426.6 90.7,426.6 91.4,426.6 92.1,426.6 92.8,426.6 93.5,426.6 94.2,426.6 94.9,426.6 95.9,425.7 97.6,421.1 99.1,416.6 100.0,415.3 100.7,415.3 101.4,415.3 102.1,415.3 102.8,415.3 103.5,415.3 104.2,415.3 104.9,415.3 105.6,415.3 106.3,415.3 107.0,415.3 107.7,415.3 108.2,412.7 108.7,408.1 111.2,403.6 112.1,403.0 112.8,403.0 113.5,403.0 114.2,403.0 114.9,403.0 115.6,403.0 116.2,402.3 116.5,397.7 117.2,397.7 117.9,397.7 118.6,397.7 119.3,397.7 120.0,397.7 120.7,397.7 121.4,397.7 122.1,397.7 122.8,397.7 123.5,397.7 124.2,397.7 124.9,397.7 125.6,397.7 126.3,397.7 127.0,397.7 127.7,397.7 128.4,397.7 129.1,397.1 130.0,392.5 130.8,390.0 131.5,390.0 132.2,390.0 132.9,390.0 133.6,390.0 134.3,390.0 135.0,390.0 135.7,390.0 136.4,390.0 137.1,390.0 139.7,387.3 142.4,382.8 144.2,378.2 147.3,373.7 148.5,372.6 149.2,372.6 149.9,372.6 150.6,372.6 151.3,372.6 152.0,372.6 152.7,372.6 153.4,372.6 154.1,372.6 154.8,372.6 155.5,372.6 156.2,372.6 156.9,372.6 157.6,372.6 158.3,372.6 159.0,372.6 159.7,372.6 160.4,372.6 162.4,368.5 163.5,367.2 164.2,367.2 164.9,367.2 165.6,367.2 166.3,367.2 167.0,367.2 167.7,367.2 168.4,367.2 169.1,367.2 169.8,367.2 170.5,367.2 171.2,367.2 171.9,367.2 172.6,367.2 173.3,367.2 174.0,367.2 174.7,367.2 175.4,367.2 176.1,367.2 176.8,367.2 177.5,367.2 178.2,367.2 178.9,367.2 179.6,367.2 180.3,367.2 181.0,367.2 181.7,367.2 182.4,367.2 183.1,367.2 183.8,367.2 184.5,367.2 185.2,367.2 185.9,367.2 186.6,366.5 187.2,362.0 187.9,360.0 188.6,360.0 189.3,360.0 190.0,360.0 190.7,360.0 191.4,360.0 193.4,356.8 195.0,354.5 195.7,354.5 196.4,354.5 197.1,354.5 197.8,354.5 198.5,354.5 199.2,354.5 199.9,354.5 200.5,350.9 201.2,347.8 201.9,347.8 202.6,347.8 203.3,347.8 204.0,347.8 204.7,347.8 205.4,347.8 206.1,347.8 206.8,347.8 207.5,347.8 208.2,347.8 208.9,347.8 209.6,347.8 210.3,347.8 211.0,347.8 211.7,347.8 212.4,347.8 213.1,347.8 213.8,347.8 214.5,347.8 215.2,347.8 215.9,347.8 216.6,347.8 217.3,347.8 218.0,347.8 218.7,347.8 219.4,347.8 220.1,347.8 220.8,347.8 221.5,347.8 222.2,347.8 222.9,347.8 223.6,347.8 224.3,347.8 225.0,347.8 225.7,347.8 226.4,347.8 227.1,347.8 227.8,347.8 228.5,347.8 229.2,347.8 229.9,347.8 230.6,347.8 231.3,347.8 232.0,347.8 232.7,347.8 233.4,347.8 234.1,347.8 234.8,347.8 235.5,347.8 236.2,347.8 236.9,347.8 237.6,347.8 238.3,347.8 239.0,347.8 239.7,347.8 240.4,347.8 241.1,347.8 241.8,347.8 242.5,347.8 243.2,347.8 243.9,347.8 244.6,347.8 245.3,347.8 246.0,347.8 246.7,347.8 247.4,347.8 248.1,347.8 248.8,347.8 249.5,347.8 250.2,347.8 250.9,347.8 251.6,347.8 252.3,347.8 253.0,347.8 253.7,347.8 254.4,347.8 255.1,347.8 255.8,347.8 256.5,347.8 257.2,347.8 257.9,347.8 258.6,347.8 259.3,347.8 260.0,347.8 260.7,347.8 261.4,347.8 262.1,347.8 262.8,347.8 263.5,347.8 264.2,347.8 264.9,347.8 265.6,347.8 266.3,347.8 267.0,347.8 267.7,347.8 268.4,347.8 269.1,347.8 269.8,347.8 270.5,347.8 271.2,347.8 271.9,347.8 272.6,347.8 273.3,347.8 274.0,347.8 274.7,347.8 275.4,347.8 276.1,347.8 276.8,347.8 277.5,347.8 278.2,347.8 278.9,347.8 279.6,347.8 280.3,347.8 281.0,347.8 281.7,347.8 282.4,347.8 283.1,347.8 283.8,347.8 284.5,347.8 285.2,347.8 285.9,347.8 286.6,347.8 287.3,347.8 288.0,347.8 288.7,347.8 289.4,347.8 290.1,347.8 290.8,347.8 291.5,347.8 292.2,347.8 292.9,347.8 293.6,347.8 294.3,347.8 295.0,347.8 295.7,347.8 296.4,347.8 297.1,347.8 297.8,347.8 298.5,347.8 299.2,347.8 299.9,347.8 300.6,347.8 301.3,347.8 302.0,347.8 302.7,347.8 303.4,347.8 304.1,347.8 304.8,347.8 305.5,347.8 306.2,347.8 306.9,347.8 307.6,347.8 308.3,347.8 309.0,347.8 309.7,347.8 310.4,347.8 311.1,347.8 311.8,347.8 312.5,347.8 313.2,347.8 313.9,347.8 314.6,347.8 315.3,347.8 316.0,347.8 316.7,347.8 317.4,347.8 318.1,347.8 318.8,347.8 319.5,347.8 320.2,347.8 320.9,347.8 321.6,347.8 322.3,347.8 323.0,347.8 323.7,347.8 324.4,347.8"/>
<text class="pl" x="0.9" y="12.3">A</text>
<text class="pl" x="0.1" y="355.6">B</text>
<text class="ax" style="font-size:13.2px" text-anchor="middle" x="187.3" y="318">False positive rate</text>
<text class="ax" text-anchor="middle" x="185.6" y="659.3">False positive rate</text>
<text class="ax" style="font-size:13.3px" text-anchor="middle" transform="translate(11.4 151.7) rotate(-90)">True possitive rate</text>
<text class="ax" style="font-size:13.2px" text-anchor="middle" transform="translate(11.4 499) rotate(-90)">True possitive rate</text>
<g transform="translate(238.20 100.15)"><path d="M4 0.85L7.15 4L4 7.15L0.85 4Z" fill="#FFC000"/></g><text class="lg" x="252.6" y="107.9">blond</text>
<g transform="translate(238.20 113.75)"><rect x="1" y="1" width="6" height="6" fill="#C0504D"/></g><text class="lg" x="252.6" y="121.2">brown</text>
<g transform="translate(238.20 128.00)"><path d="M4 1.1L7.15 6.9H0.85Z" fill="#FF0000"/></g><text class="lg" x="252.6" y="135.1">red</text>
<g transform="translate(238.20 140.20)"><path d="M1.45 1.55L6.55 6.45M6.55 1.55L1.45 6.45" stroke="#000" stroke-width="2.2" fill="none"/></g><text class="lg" x="252.6" y="148.5">black</text>
<g transform="translate(228.70 413.80)"><path d="M4 0.9L7.1 4L4 7.1L0.9 4Z" fill="#FFC000"/></g><text class="lg" x="243.3" y="421.8">blond</text>
<g transform="translate(228.70 428.30)"><path d="M0.5 4H7.5M4 0.7V7.3" stroke="#E46C0A" stroke-width="1.1" fill="none"/></g><text class="lg" x="243.3" y="436.7">d-blond</text>
<g transform="translate(229.00 442.50)"><rect x="1.4" y="1.4" width="5.2" height="5.2" fill="#984807"/></g><text class="lg" x="243.3" y="451.0">brown</text>
<g transform="translate(230.50 456.40)"><rect x="1.5" y="2.9" width="5" height="2.2" rx="0.8" fill="#7030A0"/></g><text class="lg" x="243.3" y="464.4">auburn</text>
<g transform="translate(229.00 471.30)"><path d="M1.4 1.2L6.6 6.8M6.6 1.2L1.4 6.8M4 1.9V6.1" stroke="#C00000" stroke-width="1.4" fill="none"/></g><text class="lg" x="243.3" y="478.8">b-red</text>
<g transform="translate(229.00 488.10)"><path d="M4 1.1L7 6.9H1Z" fill="#FF0000"/></g><text class="lg" x="243.3" y="495.7">red</text>
<g transform="translate(229.00 503.00)"><path d="M1.4 1.45L6.6 6.55M6.6 1.45L1.4 6.55" stroke="#000" stroke-width="1.3" fill="none"/></g><text class="lg" x="243.3" y="511.0">black</text>
</svg>
</body></html>
